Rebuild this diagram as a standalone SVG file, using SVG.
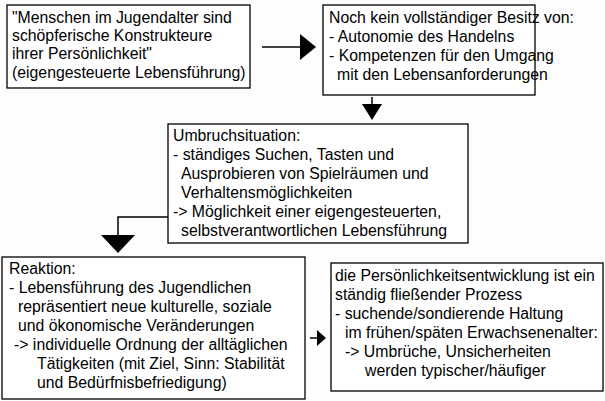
<svg xmlns="http://www.w3.org/2000/svg" width="605" height="401" viewBox="0 0 605 401">
<style>
rect{fill:#fff;stroke:#000;stroke-width:1.3}
text{font-family:"Liberation Sans",Arial,sans-serif;font-size:15.8px;fill:#000}
.c{stroke:#000;stroke-width:1.5;fill:none}
</style>
<rect x="0" y="0" width="605" height="401" style="fill:#fdfdfd;stroke:none"/>
<g id="connectors">
<line class="c" x1="262" y1="47" x2="302" y2="47"/><polygon points="300,34 316,47 300,60"/>
<line class="c" x1="372" y1="97" x2="372" y2="106"/><polygon points="362,104 382,104 372,120"/>
<polyline class="c" points="168,217 118,217 118,237"/><polygon points="101,235 135,235 118,253"/>
<line class="c" x1="310" y1="338" x2="318" y2="338"/><polygon points="317,330 326,338 317,346"/>
</g>
<g id="n1"><rect x="7" y="5" width="243" height="83"/>
<text x="12" y="23">"Menschen im Jugendalter sind</text><text x="12" y="41">schöpferische Konstrukteure</text><text x="12" y="59">ihrer Persönlichkeit"</text><text x="12" y="78">(eigengesteuerte Lebensführung)</text></g>
<g id="n2"><rect x="323" y="5" width="212" height="90"/>
<text x="329" y="23">Noch kein vollständiger Besitz von:</text><text x="329" y="42">- Autonomie des Handelns</text><text x="329" y="61">- Kompetenzen für den Umgang</text><text x="337" y="80">mit den Lebensanforderungen</text></g>
<g id="n3"><rect x="168" y="124" width="300" height="119"/>
<text x="173" y="141">Umbruchsituation:</text><text x="173" y="160">- ständiges Suchen, Tasten und</text><text x="181" y="179">Ausprobieren von Spielräumen und</text><text x="181" y="198">Verhaltensmöglichkeiten</text><text x="173" y="217">-&gt; Möglichkeit einer eigengesteuerten,</text><text x="181" y="236">selbstverantwortlichen Lebensführung</text></g>
<g id="n4"><rect x="2" y="257" width="303" height="142"/>
<text x="9" y="274">Reaktion:</text><text x="9" y="293">- Lebensführung des Jugendlichen</text><text x="18" y="312">repräsentiert neue kulturelle, soziale</text><text x="18" y="331">und ökonomische Veränderungen</text><text x="14" y="350">-&gt; individuelle Ordnung der alltäglichen</text><text x="37" y="369">Tätigkeiten (mit Ziel, Sinn: Stabilität</text><text x="37" y="388">und Bedürfnisbefriedigung)</text></g>
<g id="n5"><rect x="331" y="263" width="272" height="128"/>
<text x="335" y="281">die Persönlichkeitsentwicklung ist ein</text><text x="335" y="300">ständig fließender Prozess</text><text x="335" y="319">- suchende/sondierende Haltung</text><text x="345" y="338">im frühen/späten Erwachsenenalter:</text><text x="345" y="357">-&gt; Umbrüche, Unsicherheiten</text><text x="365" y="376">werden typischer/häufiger</text></g>
</svg>
